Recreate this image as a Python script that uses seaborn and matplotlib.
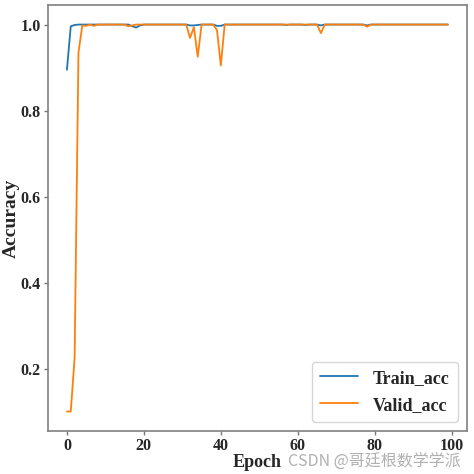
import numpy as np
import pandas as pd
import matplotlib
matplotlib.use("Agg")
import matplotlib.pyplot as plt
import seaborn as sns

epochs = list(range(100))

train_acc = [1.0] * 100
train_acc[0] = 0.895
train_acc[1] = 0.996
train_acc[2] = 0.999
train_acc[17] = 0.996
train_acc[18] = 0.993
train_acc[19] = 0.998
train_acc[32] = 0.998
train_acc[33] = 0.998
train_acc[34] = 0.999
train_acc[39] = 0.997
train_acc[40] = 0.997
train_acc[57] = 0.999
train_acc[62] = 0.999
train_acc[66] = 0.998
train_acc[78] = 0.998

valid_acc = [1.0] * 100
valid_acc[0] = 0.100
valid_acc[1] = 0.100
valid_acc[2] = 0.225
valid_acc[3] = 0.935
valid_acc[4] = 0.998
valid_acc[5] = 0.997
valid_acc[7] = 0.997
valid_acc[16] = 0.996
valid_acc[17] = 0.998
valid_acc[32] = 0.969
valid_acc[33] = 0.994
valid_acc[34] = 0.925
valid_acc[39] = 0.987
valid_acc[40] = 0.905
valid_acc[66] = 0.980
valid_acc[78] = 0.995

df = pd.DataFrame({
    "Epoch": epochs * 2,
    "Accuracy": train_acc + valid_acc,
    "kind": ["Train_acc"] * 100 + ["Valid_acc"] * 100,
})

sns.set_style("ticks")
plt.rcParams["font.family"] = ["Liberation Serif", "DejaVu Serif"]
plt.rcParams["font.weight"] = "bold"

fig = plt.figure(figsize=(4.74, 4.74), dpi=100)
ax = fig.add_axes([0.101, 0.091, 0.884, 0.898])

sns.lineplot(data=df, x="Epoch", y="Accuracy", hue="kind",
             palette=["#1f77b4", "#ff7f0e"], linewidth=1.3, ax=ax)

ax.set_xticks([0, 20, 40, 60, 80, 100])
ax.set_yticks([0.2, 0.4, 0.6, 0.8, 1.0])
ax.tick_params(labelsize=11.5, length=3, width=1, pad=2, color="#777777")
for lab in ax.get_xticklabels() + ax.get_yticklabels():
    lab.set_fontweight("bold")
for sp in ax.spines.values():
    sp.set_visible(True)
    sp.set_color("#808080")
    sp.set_linewidth(1.2)

ax.set_xlabel("Epoch", fontsize=13, fontweight="bold", labelpad=0)
ax.set_ylabel("Accuracy", fontsize=14, fontweight="bold")
ax.yaxis.set_label_coords(-0.066, 0.5)

leg = ax.legend(loc="lower right", prop={"size": 13, "weight": "bold"},
                handlelength=2.1, borderpad=0.45, labelspacing=0.55,
                handletextpad=0.85, borderaxespad=0.5)
leg.get_frame().set_edgecolor("#cccccc")

fig.text(0.607, 0.024, "CSDN @哥廷根数学学派", ha="left", va="center",
         fontsize=11.5, fontweight="normal", color="#b0b0b0",
         family=["Noto Sans CJK SC", "DejaVu Sans"])

fig.savefig("out.png", dpi=100)
